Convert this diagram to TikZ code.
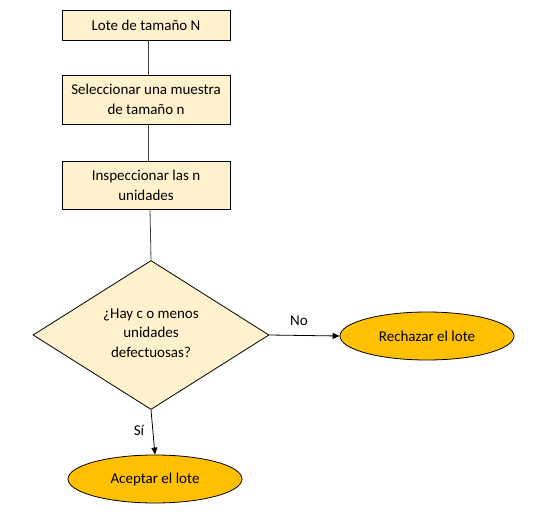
\documentclass[tikz,border=0pt]{standalone}
\usepackage{fontspec}
\setmainfont{Carlito}
\usetikzlibrary{shapes.geometric,arrows.meta}
\definecolor{boxfill}{HTML}{FFF2CC}
\definecolor{ovalfill}{HTML}{FFC000}
\definecolor{linegray}{HTML}{404040}
\begin{document}
\begin{tikzpicture}[x=1pt,y=-1pt,
  every node/.style={font=\fontsize{15}{20}\selectfont, inner sep=0pt},
  procbox/.style={draw=black, line width=0.8pt, fill=boxfill, minimum width=168pt, align=center},
  decision/.style={draw=black, line width=0.8pt, fill=boxfill, diamond, minimum width=236pt, minimum height=149pt, aspect=1.58},
  terminal/.style={draw=black, line width=0.8pt, fill=ovalfill, ellipse, minimum width=174pt, minimum height=48pt},
  plain/.style={draw=linegray, line width=0.8pt},
  flow/.style={draw=black, line width=0.8pt, -{Triangle[length=7pt,width=6pt]}},
  lbl/.style={font=\fontsize{15}{20}\selectfont}
]
\useasboundingbox (0,0) rectangle (538,516);
\node[procbox, minimum height=30pt] (b1) at (146,25) {Lote de tamaño N};
\node[procbox, minimum height=49pt] (b2) at (146,99.5) {Seleccionar una muestra\\de tamaño n};
\node[procbox, minimum height=48pt] (b3) at (146,185) {Inspeccionar las n\\unidades};
\node[decision] (d) at (151,335) {};
\node[align=center, font=\fontsize{15}{19.5}\selectfont] (dt) at (151,333) {¿Hay c o menos\\unidades\\defectuosas?};
\node[terminal] (r) at (427,336) {Rechazar el lote};
\node[terminal] (a) at (155,479) {Aceptar el lote};
\coordinate (c1) at (148,40);
\coordinate (c2) at (148,75);
\coordinate (c3) at (148,124);
\coordinate (c4) at (148,161);
\coordinate (c5) at (150,209);
\draw[plain] (c1) -- (c2);
\draw[plain] (c3) -- (c4);
\draw[plain] (c5) -- (d.north);
\draw[flow] (d.east) -- (r.west);
\draw[flow] (d.south) -- (a.north);
\node[lbl] (no) at (299,321) {No};
\node[lbl] (si) at (139,430) {Sí};
\end{tikzpicture}
\end{document}
